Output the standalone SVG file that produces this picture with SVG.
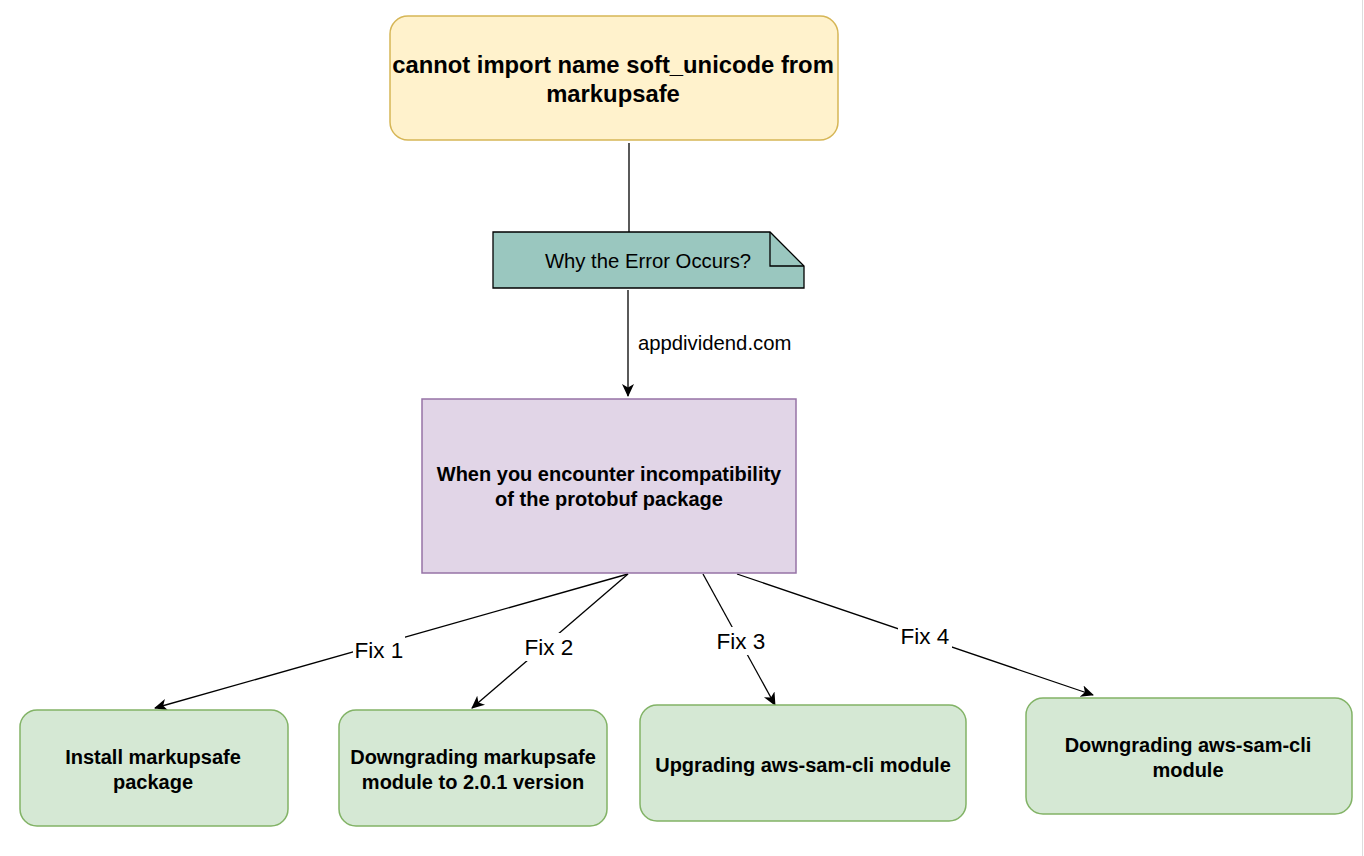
<svg xmlns="http://www.w3.org/2000/svg" width="1364" height="856" viewBox="0 0 1364 856">
<style>
.t{font-family:"Liberation Sans",Arial,sans-serif;fill:#000;text-anchor:middle}
.b{font-weight:bold}
.edge{stroke:#000;stroke-width:1.3;fill:none}
.lbl{font-family:"Liberation Sans",Arial,sans-serif;font-size:22.5px;text-anchor:middle;fill:#000}
.green{fill:#d5e8d4;stroke:#82b366;stroke-width:1.5}
</style>
<defs>
<marker id="arr" markerWidth="14" markerHeight="14" viewBox="0 0 14 14" refX="12" refY="7" orient="auto" markerUnits="userSpaceOnUse">
<path d="M0,1 L13,7 L0,13 L3.5,7 Z" fill="#000"/>
</marker>
</defs>
<rect width="1364" height="856" fill="#fff"/>
<line x1="1362.5" y1="0" x2="1362.5" y2="856" stroke="#dddddd" stroke-width="1"/>
<g id="connectors">
<line class="edge" x1="629" y1="143" x2="629" y2="232"/>
<line class="edge" x1="628" y1="290" x2="628" y2="396" marker-end="url(#arr)"/>
<line class="edge" x1="628" y1="574" x2="155" y2="708" marker-end="url(#arr)"/>
<line class="edge" x1="628" y1="574" x2="472" y2="708" marker-end="url(#arr)"/>
<line class="edge" x1="703" y1="574" x2="775" y2="705" marker-end="url(#arr)"/>
<line class="edge" x1="737" y1="574" x2="1093" y2="695" marker-end="url(#arr)"/>
<text class="t" x="638" y="350" style="font-size:20.3px;text-anchor:start">appdividend.com</text>
<rect x="353" y="636" width="52" height="28" fill="#fff"/>
<text class="lbl" x="379" y="658">Fix 1</text>
<rect x="522" y="633" width="54" height="28" fill="#fff"/>
<text class="lbl" x="549" y="655">Fix 2</text>
<rect x="714" y="627" width="54" height="28" fill="#fff"/>
<text class="lbl" x="741" y="649">Fix 3</text>
<rect x="898" y="622" width="54" height="28" fill="#fff"/>
<text class="lbl" x="925" y="644">Fix 4</text>
</g>
<g id="top">
<rect x="390" y="16" width="448" height="124" rx="18" fill="#fff2cc" stroke="#d6b656" stroke-width="1.5"/>
<text class="t b" x="613" y="73" style="font-size:23.8px">cannot import name soft_unicode from</text>
<text class="t b" x="613" y="102" style="font-size:23.8px">markupsafe</text>
</g>
<g id="why">
<path d="M493,232 H770 L804,266 V288 H493 Z" fill="#9ac7bf" stroke="#000" stroke-width="1.3"/>
<path d="M770,232 V266 H804" fill="none" stroke="#000" stroke-width="1.3"/>
<text class="t" x="648" y="268" style="font-size:20.3px">Why the Error Occurs?</text>
</g>
<g id="cause">
<rect x="422" y="399" width="374" height="174" fill="#e1d5e7" stroke="#9673a6" stroke-width="1.5"/>
<text class="t b" x="609" y="481" style="font-size:20px">When you encounter incompatibility</text>
<text class="t b" x="609" y="506" style="font-size:20px">of the protobuf package</text>
</g>
<g id="fix1">
<rect class="green" x="20" y="710" width="268" height="116" rx="17"/>
<text class="t b" x="153" y="764" style="font-size:20px">Install markupsafe</text>
<text class="t b" x="153" y="789" style="font-size:20px">package</text>
</g>
<g id="fix2">
<rect class="green" x="339" y="710" width="268" height="116" rx="17"/>
<text class="t b" x="473" y="764" style="font-size:20px">Downgrading markupsafe</text>
<text class="t b" x="473" y="789" style="font-size:20px">module to 2.0.1 version</text>
</g>
<g id="fix3">
<rect class="green" x="640" y="705" width="326" height="116" rx="17"/>
<text class="t b" x="803" y="772" style="font-size:20px">Upgrading aws-sam-cli module</text>
</g>
<g id="fix4">
<rect class="green" x="1026" y="698" width="326" height="116" rx="17"/>
<text class="t b" x="1188" y="752" style="font-size:20px">Downgrading aws-sam-cli</text>
<text class="t b" x="1188" y="777" style="font-size:20px">module</text>
</g>
</svg>
